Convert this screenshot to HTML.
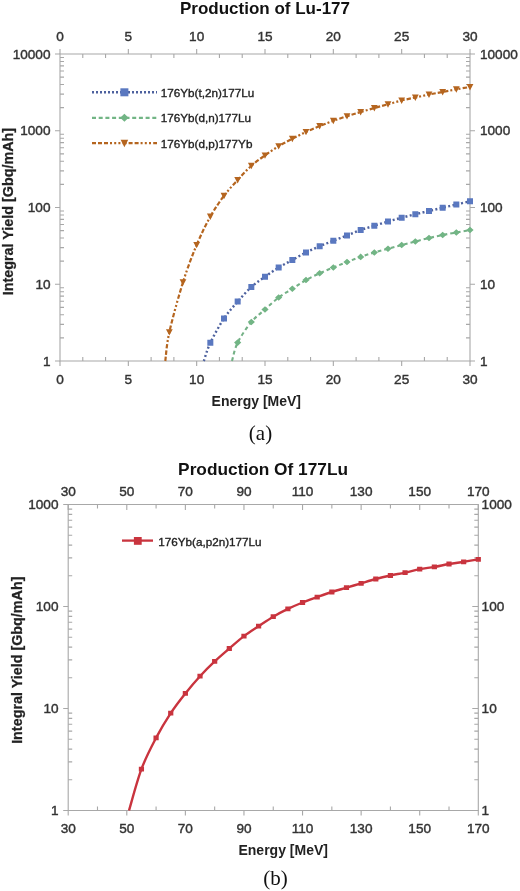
<!DOCTYPE html>
<html><head><meta charset="utf-8"><title>Production of Lu-177</title>
<style>html,body{margin:0;padding:0;background:#fff;}svg{display:block;}</style>
</head><body>
<svg width="520" height="891" viewBox="0 0 520 891">
<path d="M60 54H470V361H60Z" fill="none" stroke="#a8a8a8" stroke-width="1.1"/>
<path d="M60 54v-5M60 361v5M82.78 54v4M82.78 361v-4M105.56 54v4M105.56 361v-4M128.33 54v-5M128.33 361v5M151.11 54v4M151.11 361v-4M173.89 54v4M173.89 361v-4M196.67 54v-5M196.67 361v5M219.44 54v4M219.44 361v-4M242.22 54v4M242.22 361v-4M265 54v-5M265 361v5M287.78 54v4M287.78 361v-4M310.56 54v4M310.56 361v-4M333.33 54v-5M333.33 361v5M356.11 54v4M356.11 361v-4M378.89 54v4M378.89 361v-4M401.67 54v-5M401.67 361v5M424.44 54v4M424.44 361v-4M447.22 54v4M447.22 361v-4M470 54v-5M470 361v5M60 361h-5M470 361h5M60 337.9h4M470 337.9h-4M60 324.38h4M470 324.38h-4M60 314.79h4M470 314.79h-4M60 307.35h4M470 307.35h-4M60 301.28h4M470 301.28h-4M60 296.14h4M470 296.14h-4M60 291.69h4M470 291.69h-4M60 287.76h4M470 287.76h-4M60 284.25h-5M470 284.25h5M60 261.15h4M470 261.15h-4M60 247.63h4M470 247.63h-4M60 238.04h4M470 238.04h-4M60 230.6h4M470 230.6h-4M60 224.53h4M470 224.53h-4M60 219.39h4M470 219.39h-4M60 214.94h4M470 214.94h-4M60 211.01h4M470 211.01h-4M60 207.5h-5M470 207.5h5M60 184.4h4M470 184.4h-4M60 170.88h4M470 170.88h-4M60 161.29h4M470 161.29h-4M60 153.85h4M470 153.85h-4M60 147.78h4M470 147.78h-4M60 142.64h4M470 142.64h-4M60 138.19h4M470 138.19h-4M60 134.26h4M470 134.26h-4M60 130.75h-5M470 130.75h5M60 107.65h4M470 107.65h-4M60 94.13h4M470 94.13h-4M60 84.54h4M470 84.54h-4M60 77.1h4M470 77.1h-4M60 71.03h4M470 71.03h-4M60 65.89h4M470 65.89h-4M60 61.44h4M470 61.44h-4M60 57.51h4M470 57.51h-4M60 54h-5M470 54h5" fill="none" stroke="#a8a8a8" stroke-width="1.1"/>
<g font-family="Liberation Sans, Arial, sans-serif" font-size="13.6" fill="#333333" stroke="#333333" stroke-width="0.4"><text x="60" y="40.8" text-anchor="middle">0</text><text x="60" y="384" text-anchor="middle">0</text><text x="128.33" y="40.8" text-anchor="middle">5</text><text x="128.33" y="384" text-anchor="middle">5</text><text x="196.67" y="40.8" text-anchor="middle">10</text><text x="196.67" y="384" text-anchor="middle">10</text><text x="265" y="40.8" text-anchor="middle">15</text><text x="265" y="384" text-anchor="middle">15</text><text x="333.33" y="40.8" text-anchor="middle">20</text><text x="333.33" y="384" text-anchor="middle">20</text><text x="401.67" y="40.8" text-anchor="middle">25</text><text x="401.67" y="384" text-anchor="middle">25</text><text x="470" y="40.8" text-anchor="middle">30</text><text x="470" y="384" text-anchor="middle">30</text><text x="50.5" y="365.7" text-anchor="end">1</text><text x="480" y="365.7">1</text><text x="50.5" y="288.95" text-anchor="end">10</text><text x="480" y="288.95">10</text><text x="50.5" y="212.2" text-anchor="end">100</text><text x="480" y="212.2">100</text><text x="50.5" y="135.45" text-anchor="end">1000</text><text x="480" y="135.45">1000</text><text x="50.5" y="58.7" text-anchor="end">10000</text><text x="480" y="58.7">10000</text></g>
<path d="M165.3 361C165.97 356.2 166.38 345.33 169.33 332.2C172.28 319.07 178.44 296.75 183 282.2C187.56 267.65 192.11 255.83 196.67 244.9C201.22 233.97 205.78 224.78 210.33 216.6C214.89 208.42 219.44 201.9 224 195.8C228.56 189.7 233.11 185 237.67 180C242.22 175 246.78 169.9 251.33 165.8C255.89 161.7 260.44 158.67 265 155.4C269.56 152.13 274.11 148.97 278.67 146.2C283.22 143.43 287.78 141.18 292.33 138.8C296.89 136.42 301.44 134.02 306 131.9C310.56 129.78 315.11 127.95 319.67 126.1C324.22 124.25 328.78 122.45 333.33 120.8C337.89 119.15 342.44 117.67 347 116.2C351.56 114.73 356.11 113.37 360.67 112C365.22 110.63 369.78 109.28 374.33 108C378.89 106.72 383.44 105.55 388 104.3C392.56 103.05 397.11 101.63 401.67 100.5C406.22 99.37 410.78 98.5 415.33 97.5C419.89 96.5 424.44 95.42 429 94.5C433.56 93.58 438.11 92.87 442.67 92C447.22 91.13 451.78 90.13 456.33 89.3C460.89 88.47 467.72 87.38 470 87" fill="none" stroke="#b5651f" stroke-width="2.2" stroke-dasharray="4.4 2 4.4 2 4.4 2 2 2.2 2 2.2 2 2.2"/>
<path d="M203.8 361C204.89 357.97 206.97 349.88 210.33 342.8C213.7 335.72 219.44 325.37 224 318.5C228.56 311.63 233.11 306.85 237.67 301.6C242.22 296.35 246.78 291.14 251.33 287C255.89 282.86 260.44 280 265 276.75C269.56 273.5 274.11 270.29 278.67 267.5C283.22 264.71 287.78 262.5 292.33 260C296.89 257.5 301.44 254.79 306 252.5C310.56 250.21 315.11 248.21 319.67 246.25C324.22 244.29 328.78 242.54 333.33 240.75C337.89 238.96 342.44 237.29 347 235.5C351.56 233.71 356.11 231.62 360.67 230C365.22 228.38 369.78 227.17 374.33 225.75C378.89 224.33 383.44 222.83 388 221.5C392.56 220.17 397.11 218.96 401.67 217.75C406.22 216.54 410.78 215.38 415.33 214.25C419.89 213.12 424.44 212.08 429 211C433.56 209.92 438.11 208.83 442.67 207.75C447.22 206.67 451.78 205.58 456.33 204.5C460.89 203.42 467.72 201.79 470 201.25" fill="none" stroke="#4d619e" stroke-width="2.4" stroke-dasharray="2 2.4"/>
<path d="M232 361C232.94 357.93 234.44 349.1 237.67 342.6C240.89 336.1 246.78 327.52 251.33 322C255.89 316.48 260.44 313.58 265 309.5C269.56 305.42 274.11 300.96 278.67 297.5C283.22 294.04 287.78 291.67 292.33 288.75C296.89 285.83 301.44 282.58 306 280C310.56 277.42 315.11 275.33 319.67 273.25C324.22 271.17 328.78 269.38 333.33 267.5C337.89 265.62 342.44 263.77 347 262C351.56 260.23 356.11 258.48 360.67 256.9C365.22 255.32 369.78 253.86 374.33 252.5C378.89 251.14 383.44 250 388 248.75C392.56 247.5 397.11 246.21 401.67 245C406.22 243.79 410.78 242.67 415.33 241.5C419.89 240.33 424.44 239.08 429 238C433.56 236.92 438.11 235.92 442.67 235C447.22 234.08 451.78 233.33 456.33 232.5C460.89 231.67 467.72 230.42 470 230" fill="none" stroke="#74b186" stroke-width="2.1" stroke-dasharray="3.8 3"/>
<path d="M165.93 329.2h6.8l-3.4 6.4zM179.6 279.2h6.8l-3.4 6.4zM193.27 241.9h6.8l-3.4 6.4zM206.93 213.6h6.8l-3.4 6.4zM220.6 192.8h6.8l-3.4 6.4zM234.27 177h6.8l-3.4 6.4zM247.93 162.8h6.8l-3.4 6.4zM261.6 152.4h6.8l-3.4 6.4zM275.27 143.2h6.8l-3.4 6.4zM288.93 135.8h6.8l-3.4 6.4zM302.6 128.9h6.8l-3.4 6.4zM316.27 123.1h6.8l-3.4 6.4zM329.93 117.8h6.8l-3.4 6.4zM343.6 113.2h6.8l-3.4 6.4zM357.27 109h6.8l-3.4 6.4zM370.93 105h6.8l-3.4 6.4zM384.6 101.3h6.8l-3.4 6.4zM398.27 97.5h6.8l-3.4 6.4zM411.93 94.5h6.8l-3.4 6.4zM425.6 91.5h6.8l-3.4 6.4zM439.27 89h6.8l-3.4 6.4zM452.93 86.3h6.8l-3.4 6.4zM466.6 84h6.8l-3.4 6.4z" fill="#b5651f"/>
<path d="M207.33 339.8h6v6h-6zM221 315.5h6v6h-6zM234.67 298.6h6v6h-6zM248.33 284h6v6h-6zM262 273.75h6v6h-6zM275.67 264.5h6v6h-6zM289.33 257h6v6h-6zM303 249.5h6v6h-6zM316.67 243.25h6v6h-6zM330.33 237.75h6v6h-6zM344 232.5h6v6h-6zM357.67 227h6v6h-6zM371.33 222.75h6v6h-6zM385 218.5h6v6h-6zM398.67 214.75h6v6h-6zM412.33 211.25h6v6h-6zM426 208h6v6h-6zM439.67 204.75h6v6h-6zM453.33 201.5h6v6h-6zM467 198.25h6v6h-6z" fill="#5a78c0"/>
<path d="M234.07 342.6l3.6 -3.3l3.6 3.3l-3.6 3.3zM247.73 322l3.6 -3.3l3.6 3.3l-3.6 3.3zM261.4 309.5l3.6 -3.3l3.6 3.3l-3.6 3.3zM275.07 297.5l3.6 -3.3l3.6 3.3l-3.6 3.3zM288.73 288.75l3.6 -3.3l3.6 3.3l-3.6 3.3zM302.4 280l3.6 -3.3l3.6 3.3l-3.6 3.3zM316.07 273.25l3.6 -3.3l3.6 3.3l-3.6 3.3zM329.73 267.5l3.6 -3.3l3.6 3.3l-3.6 3.3zM343.4 262l3.6 -3.3l3.6 3.3l-3.6 3.3zM357.07 256.9l3.6 -3.3l3.6 3.3l-3.6 3.3zM370.73 252.5l3.6 -3.3l3.6 3.3l-3.6 3.3zM384.4 248.75l3.6 -3.3l3.6 3.3l-3.6 3.3zM398.07 245l3.6 -3.3l3.6 3.3l-3.6 3.3zM411.73 241.5l3.6 -3.3l3.6 3.3l-3.6 3.3zM425.4 238l3.6 -3.3l3.6 3.3l-3.6 3.3zM439.07 235l3.6 -3.3l3.6 3.3l-3.6 3.3zM452.73 232.5l3.6 -3.3l3.6 3.3l-3.6 3.3zM466.4 230l3.6 -3.3l3.6 3.3l-3.6 3.3z" fill="#72b585"/>
<path d="M92 92.3H157" stroke="#4d619e" stroke-width="2.4" stroke-dasharray="2 2"/>
<path d="M92 117.8H157" stroke="#72b585" stroke-width="2.2" stroke-dasharray="4 2.7"/>
<path d="M92 143.2H157" stroke="#b5651f" stroke-width="2.2" stroke-dasharray="4 2 4 2 4 2 2 2.2 2 2.2 2 2.2"/>
<rect x="120.4" y="88.3" width="8" height="8" fill="#5a78c0"/>
<path d="M120.2 117.8l4.2 -4l4.2 4l-4.2 4z" fill="#72b585"/>
<path d="M120.60000000000001 139.8h7.6l-3.8 7.4z" fill="#b5651f"/>
<g font-family="Liberation Sans, Arial, sans-serif" font-size="11.7" fill="#222" stroke="#222" stroke-width="0.35"><text x="160.8" y="96.6">176Yb(t,2n)177Lu</text><text x="160.8" y="122.1">176Yb(d,n)177Lu</text><text x="160.8" y="147.5">176Yb(d,p)177Yb</text></g>
<text x="265" y="13.9" text-anchor="middle" font-family="Liberation Sans, Arial, sans-serif" font-weight="bold" font-size="17" fill="#111">Production of Lu-177</text>
<text x="256.3" y="405.5" text-anchor="middle" font-family="Liberation Sans, Arial, sans-serif" font-weight="bold" font-size="14" fill="#222">Energy [MeV]</text>
<text transform="translate(13.1 211.6) rotate(-90)" text-anchor="middle" font-family="Liberation Sans, Arial, sans-serif" font-weight="bold" font-size="14.35" fill="#222" stroke="#222" stroke-width="0.25">Integral Yield [Gbq/mAh]</text>
<text x="260.5" y="440" text-anchor="middle" font-family="Liberation Serif, Times New Roman, serif" font-size="21" fill="#111">(a)</text>
<path d="M68.2 504.5H478.3V810.5H68.2Z" fill="none" stroke="#a8a8a8" stroke-width="1.1"/>
<path d="M68.2 504.5v5.5M68.2 810.5v5M97.49 504.5v4M97.49 810.5v-4M126.79 504.5v5.5M126.79 810.5v5M156.08 504.5v4M156.08 810.5v-4M185.37 504.5v5.5M185.37 810.5v5M214.66 504.5v4M214.66 810.5v-4M243.96 504.5v5.5M243.96 810.5v5M273.25 504.5v4M273.25 810.5v-4M302.54 504.5v5.5M302.54 810.5v5M331.84 504.5v4M331.84 810.5v-4M361.13 504.5v5.5M361.13 810.5v5M390.42 504.5v4M390.42 810.5v-4M419.71 504.5v5.5M419.71 810.5v5M449.01 504.5v4M449.01 810.5v-4M478.3 504.5v5.5M478.3 810.5v5M68.2 810.5h-5M478.3 810.5h-6M68.2 779.79h4M478.3 779.79h-4M68.2 761.83h4M478.3 761.83h-4M68.2 749.09h4M478.3 749.09h-4M68.2 739.21h4M478.3 739.21h-4M68.2 731.13h4M478.3 731.13h-4M68.2 724.3h4M478.3 724.3h-4M68.2 718.38h4M478.3 718.38h-4M68.2 713.17h4M478.3 713.17h-4M68.2 708.5h-5M478.3 708.5h-6M68.2 677.79h4M478.3 677.79h-4M68.2 659.83h4M478.3 659.83h-4M68.2 647.09h4M478.3 647.09h-4M68.2 637.21h4M478.3 637.21h-4M68.2 629.13h4M478.3 629.13h-4M68.2 622.3h4M478.3 622.3h-4M68.2 616.38h4M478.3 616.38h-4M68.2 611.17h4M478.3 611.17h-4M68.2 606.5h-5M478.3 606.5h-6M68.2 575.79h4M478.3 575.79h-4M68.2 557.83h4M478.3 557.83h-4M68.2 545.09h4M478.3 545.09h-4M68.2 535.21h4M478.3 535.21h-4M68.2 527.13h4M478.3 527.13h-4M68.2 520.3h4M478.3 520.3h-4M68.2 514.38h4M478.3 514.38h-4M68.2 509.17h4M478.3 509.17h-4M68.2 504.5h-5M478.3 504.5h-6" fill="none" stroke="#a8a8a8" stroke-width="1.1"/>
<g font-family="Liberation Sans, Arial, sans-serif" font-size="13.6" fill="#333333" stroke="#333333" stroke-width="0.4"><text x="68.2" y="496.3" text-anchor="middle">30</text><text x="68.2" y="833.2" text-anchor="middle">30</text><text x="126.79" y="496.3" text-anchor="middle">50</text><text x="126.79" y="833.2" text-anchor="middle">50</text><text x="185.37" y="496.3" text-anchor="middle">70</text><text x="185.37" y="833.2" text-anchor="middle">70</text><text x="243.96" y="496.3" text-anchor="middle">90</text><text x="243.96" y="833.2" text-anchor="middle">90</text><text x="302.54" y="496.3" text-anchor="middle">110</text><text x="302.54" y="833.2" text-anchor="middle">110</text><text x="361.13" y="496.3" text-anchor="middle">130</text><text x="361.13" y="833.2" text-anchor="middle">130</text><text x="419.71" y="496.3" text-anchor="middle">150</text><text x="419.71" y="833.2" text-anchor="middle">150</text><text x="478.3" y="496.3" text-anchor="middle">170</text><text x="478.3" y="833.2" text-anchor="middle">170</text><text x="58.5" y="814.5" text-anchor="end">1</text><text x="481.6" y="814.5">1</text><text x="58.5" y="712.5" text-anchor="end">10</text><text x="481.6" y="712.5">10</text><text x="58.5" y="610.5" text-anchor="end">100</text><text x="481.6" y="610.5">100</text><text x="58.5" y="508.5" text-anchor="end">1000</text><text x="481.6" y="508.5">1000</text></g>
<path d="M129 810.5C131.07 803.6 136.92 781.2 141.43 769.1C145.95 757 151.2 747.23 156.08 737.9C160.96 728.57 165.84 720.52 170.73 713.1C175.61 705.68 180.49 699.55 185.37 693.4C190.25 687.25 195.14 681.53 200.02 676.2C204.9 670.87 209.78 666.02 214.66 661.4C219.55 656.78 224.43 652.72 229.31 648.5C234.19 644.28 239.07 639.82 243.96 636.1C248.84 632.38 253.72 629.43 258.6 626.2C263.49 622.97 268.37 619.58 273.25 616.7C278.13 613.82 283.01 611.27 287.9 608.9C292.78 606.53 297.66 604.47 302.54 602.5C307.43 600.53 312.31 598.85 317.19 597.1C322.07 595.35 326.95 593.57 331.84 592C336.72 590.43 341.6 589.15 346.48 587.7C351.36 586.25 356.25 584.75 361.13 583.3C366.01 581.85 370.89 580.3 375.78 579C380.66 577.7 385.54 576.57 390.42 575.5C395.3 574.43 400.19 573.67 405.07 572.6C409.95 571.53 414.83 570.05 419.71 569.1C424.6 568.15 429.48 567.75 434.36 566.9C439.24 566.05 444.12 564.85 449.01 564C453.89 563.15 458.77 562.57 463.65 561.8C468.54 561.03 475.86 559.8 478.3 559.4" fill="none" stroke="#c9343e" stroke-width="2.4" stroke-linejoin="round"/>
<path d="M138.83 766.7h5.2v4.8h-5.2zM153.48 735.5h5.2v4.8h-5.2zM168.13 710.7h5.2v4.8h-5.2zM182.77 691h5.2v4.8h-5.2zM197.42 673.8h5.2v4.8h-5.2zM212.06 659h5.2v4.8h-5.2zM226.71 646.1h5.2v4.8h-5.2zM241.36 633.7h5.2v4.8h-5.2zM256 623.8h5.2v4.8h-5.2zM270.65 614.3h5.2v4.8h-5.2zM285.3 606.5h5.2v4.8h-5.2zM299.94 600.1h5.2v4.8h-5.2zM314.59 594.7h5.2v4.8h-5.2zM329.24 589.6h5.2v4.8h-5.2zM343.88 585.3h5.2v4.8h-5.2zM358.53 580.9h5.2v4.8h-5.2zM373.18 576.6h5.2v4.8h-5.2zM387.82 573.1h5.2v4.8h-5.2zM402.47 570.2h5.2v4.8h-5.2zM417.11 566.7h5.2v4.8h-5.2zM431.76 564.5h5.2v4.8h-5.2zM446.41 561.6h5.2v4.8h-5.2zM461.05 559.4h5.2v4.8h-5.2zM475.7 557h5.2v4.8h-5.2z" fill="#c9343e"/>
<path d="M122 540.6H153" stroke="#c9343e" stroke-width="2.3"/>
<rect x="133.9" y="537" width="7.8" height="7.8" fill="#c9343e"/>
<text x="158.3" y="545.5" font-family="Liberation Sans, Arial, sans-serif" font-size="11.7" fill="#222" stroke="#222" stroke-width="0.35">176Yb(a,p2n)177Lu</text>
<text x="263.1" y="475" text-anchor="middle" font-family="Liberation Sans, Arial, sans-serif" font-weight="bold" font-size="17.3" fill="#111">Production Of 177Lu</text>
<text x="283.2" y="855" text-anchor="middle" font-family="Liberation Sans, Arial, sans-serif" font-weight="bold" font-size="14" fill="#222">Energy [MeV]</text>
<text transform="translate(21.8 660.2) rotate(-90)" text-anchor="middle" font-family="Liberation Sans, Arial, sans-serif" font-weight="bold" font-size="14.35" fill="#222" stroke="#222" stroke-width="0.25">Integral Yield [Gbq/mAh]</text>
<text x="275.6" y="884.6" text-anchor="middle" font-family="Liberation Serif, Times New Roman, serif" font-size="21" fill="#111">(b)</text>
</svg>
</body></html>
